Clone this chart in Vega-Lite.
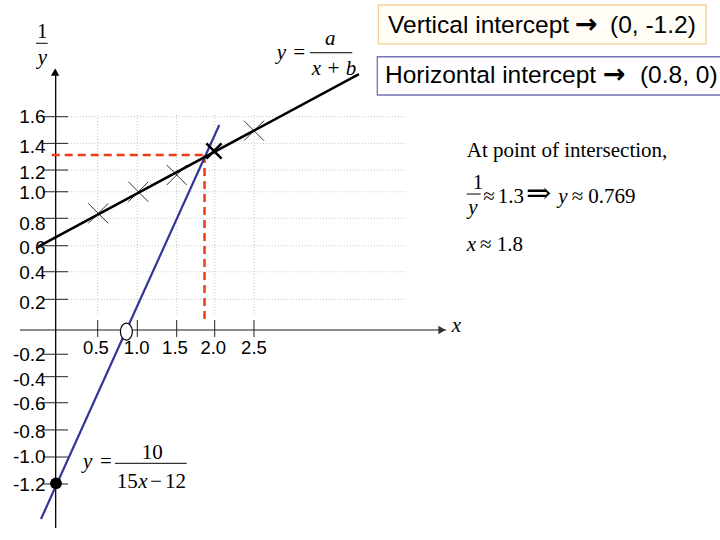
{
  "$schema": "https://vega.github.io/schema/vega-lite/v6.json",
  "description": "Reciprocal plot 1/y against x with the fitted line, the line y = 10/(15x-12), and their intersection.",
  "width": 720,
  "height": 540,
  "padding": 0,
  "autosize": {"type": "none"},
  "background": "white",
  "config": {"view": {"stroke": null}},
  "datasets": {
    "boxes": [
      {"x": 4.061, "x2": 8.209, "y": 2.438, "y2": 2.146, "box": "v"},
      {"x": 4.048, "x2": 8.45, "y": 2.05, "y2": 1.763, "box": "h"}
    ],
    "boxtext": [
      {"x": 4.184, "y": 2.226, "t": "Vertical intercept"},
      {"x": 6.994, "y": 2.226, "t": "(0, -1.2)"},
      {"x": 4.146, "y": 1.851, "t": "Horizontal intercept"},
      {"x": 7.373, "y": 1.851, "t": "(0.8, 0)"}
    ],
    "arrows": [
      {"x": 6.551, "y": 2.226, "t": "→"},
      {"x": 6.905, "y": 1.851, "t": "→"}
    ],
    "implies": [{"x": 5.93, "y": 0.95, "t": "⇒"}],
    "hgrid": [
      {"x": -0.02, "x2": 4.4, "y": 1.6},
      {"x": -0.02, "x2": 4.4, "y": 1.4},
      {"x": -0.02, "x2": 4.4, "y": 1.2},
      {"x": -0.02, "x2": 4.4, "y": 1.037},
      {"x": -0.02, "x2": 4.4, "y": 0.838},
      {"x": -0.02, "x2": 4.4, "y": 0.632},
      {"x": -0.02, "x2": 4.4, "y": 0.437},
      {"x": -0.02, "x2": 4.4, "y": 0.23}
    ],
    "vgrid": [
      {"x": 0.509, "y": 0.12, "y2": 1.613},
      {"x": 1.01, "y": 0.12, "y2": 1.613},
      {"x": 1.509, "y": 0.12, "y2": 1.613},
      {"x": 1.99, "y": 0.12, "y2": 1.613},
      {"x": 2.487, "y": 0.12, "y2": 1.613}
    ],
    "yticks": [
      {"x": -0.184, "x2": 0.133, "lx": -0.15, "y": 1.6, "ly": 1.598, "t": "1.6"},
      {"x": -0.184, "x2": 0.133, "lx": -0.15, "y": 1.4, "ly": 1.375, "t": "1.4"},
      {"x": -0.184, "x2": 0.133, "lx": -0.15, "y": 1.2, "ly": 1.176, "t": "1.2"},
      {"x": -0.184, "x2": 0.133, "lx": -0.15, "y": 1.037, "ly": 1.025, "t": "1.0"},
      {"x": -0.184, "x2": 0.133, "lx": -0.15, "y": 0.838, "ly": 0.795, "t": "0.8"},
      {"x": -0.184, "x2": 0.133, "lx": -0.15, "y": 0.632, "ly": 0.613, "t": "0.6"},
      {"x": -0.184, "x2": 0.133, "lx": -0.15, "y": 0.437, "ly": 0.425, "t": "0.4"},
      {"x": -0.184, "x2": 0.133, "lx": -0.15, "y": 0.23, "ly": 0.2, "t": "0.2"},
      {"x": -0.184, "x2": 0.133, "lx": -0.15, "y": -0.189, "ly": -0.195, "t": "-0.2"},
      {"x": -0.184, "x2": 0.133, "lx": -0.15, "y": -0.364, "ly": -0.39, "t": "-0.4"},
      {"x": -0.184, "x2": 0.133, "lx": -0.15, "y": -0.567, "ly": -0.577, "t": "-0.6"},
      {"x": -0.184, "x2": 0.133, "lx": -0.15, "y": -0.779, "ly": -0.793, "t": "-0.8"},
      {"x": -0.184, "x2": 0.133, "lx": -0.15, "y": -0.99, "ly": -0.987, "t": "-1.0"},
      {"x": -0.184, "x2": 0.133, "lx": -0.15, "y": -1.2, "ly": -1.208, "t": "-1.2"}
    ],
    "xticks": [
      {"x": 0.509, "lx": 0.487, "y": 0.075, "y2": -0.055, "ly": -0.14, "t": "0.5"},
      {"x": 1.01, "lx": 1.003, "y": 0.075, "y2": -0.055, "ly": -0.14, "t": "1.0"},
      {"x": 1.509, "lx": 1.487, "y": 0.075, "y2": -0.055, "ly": -0.14, "t": "1.5"},
      {"x": 1.99, "lx": 1.972, "y": 0.075, "y2": -0.055, "ly": -0.14, "t": "2.0"},
      {"x": 2.487, "lx": 2.487, "y": 0.075, "y2": -0.055, "ly": -0.14, "t": "2.5"}
    ],
    "reading": [
      {"x": -0.073, "x2": 1.861, "y": 1.313, "y2": 1.313},
      {"x": 1.861, "x2": 1.861, "y": 1.313, "y2": 0.06}
    ],
    "fitted": [{"x": -0.243, "x2": 3.816, "y": 0.625, "y2": 1.92}],
    "other": [
      {"x": -0.209, "y": -1.473},
      {"x": 0.872, "y": 0},
      {"x": 2.048, "y": 1.538}
    ],
    "measured": [
      {"x": 0.516, "y": 0.875},
      {"x": 1.023, "y": 1.037},
      {"x": 1.509, "y": 1.163},
      {"x": 2.487, "y": 1.495}
    ],
    "intersect": [{"x": 1.981, "y": 1.343}],
    "xint": [{"x": 0.872, "y": -0.013}],
    "yint": [{"x": -0.019, "y": -1.195}],
    "xaxis": [{"x": -0.475, "x2": 4.918, "y": 0}],
    "yaxis": [{"x": -0.023, "y": -1.543, "y2": 1.95}],
    "bars": [
      {"x": 5.18, "x2": 5.357, "y": 1.02},
      {"x": 3.196, "x2": 3.732, "y": 2.08},
      {"x": 0.728, "x2": 1.635, "y": -1.039},
      {"x": -0.272, "x2": -0.124, "y": 2.151}
    ],
    "serif": [
      {"x": 5.18, "y": 1.3, "t": "At point of intersection,"},
      {"x": 5.256, "y": 1.056, "t": "1"},
      {"x": 5.39, "y": 0.95, "t": "≈"},
      {"x": 5.572, "y": 0.95, "t": "1.3"},
      {"x": 6.509, "y": 0.95, "t": "≈"},
      {"x": 6.719, "y": 0.95, "t": "0.769"},
      {"x": 5.348, "y": 0.593, "t": "≈"},
      {"x": 5.559, "y": 0.593, "t": "1.8"},
      {"x": 2.985, "y": 2.031, "t": "="},
      {"x": 0.538, "y": -1.078, "t": "="},
      {"x": 1.066, "y": -1.005, "t": "10"},
      {"x": 0.749, "y": -1.234, "t": "15"},
      {"x": 1.171, "y": -1.234, "t": "−"},
      {"x": 1.361, "y": -1.234, "t": "12"},
      {"x": -0.259, "y": 2.188, "t": "1"}
    ],
    "italic": [
      {"x": 5.2, "y": 0.868, "t": "y"},
      {"x": 6.339, "y": 0.95, "t": "y"},
      {"x": 5.18, "y": 0.593, "t": "x"},
      {"x": 2.775, "y": 2.031, "t": "y"},
      {"x": 3.386, "y": 2.138, "t": "a"},
      {"x": 3.218, "y": 1.913, "t": "x + b"},
      {"x": 0.323, "y": -1.078, "t": "y"},
      {"x": 1.023, "y": -1.234, "t": "x"},
      {"x": -0.25, "y": 1.996, "t": "y"},
      {"x": 4.99, "y": -0.013, "t": "x"}
    ]
  },
  "encoding": {
    "x": {"field": "x", "type": "quantitative", "scale": {"domain": [-0.7278, 8.3861], "nice": false, "zero": false}, "axis": null},
    "y": {"field": "y", "type": "quantitative", "scale": {"domain": [-1.6368, 0, 2.4756], "range": [540, 330, 0], "nice": false, "zero": false}, "axis": null}
  },
  "layer": [
    {
      "data": {"name": "boxes"},
      "mark": {"type": "rect", "strokeWidth": 1.3},
      "encoding": {
        "x2": {"field": "x2"},
        "y2": {"field": "y2"},
        "stroke": {"field": "box", "type": "nominal", "scale": {"domain": ["v", "h"], "range": ["#F3CF98", "#7373B5"]}, "legend": null},
        "fill": {"field": "box", "type": "nominal", "scale": {"domain": ["v", "h"], "range": ["#FFFDF6", "#FFFFFF"]}, "legend": null}
      }
    },
    {
      "data": {"name": "boxtext"},
      "mark": {"type": "text", "align": "left", "baseline": "alphabetic", "font": "Liberation Sans", "fontSize": 24.5, "color": "#000"},
      "encoding": {"text": {"field": "t"}}
    },
    {
      "data": {"name": "arrows"},
      "mark": {"type": "text", "align": "left", "baseline": "alphabetic", "font": "DejaVu Sans", "fontWeight": "bold", "fontSize": 27, "color": "#000"},
      "encoding": {"text": {"field": "t"}}
    },
    {
      "data": {"name": "hgrid"},
      "mark": {"type": "rule", "color": "#c4c4c4", "strokeWidth": 1, "strokeDash": [1, 2]},
      "encoding": {"x2": {"field": "x2"}}
    },
    {
      "data": {"name": "vgrid"},
      "mark": {"type": "rule", "color": "#c4c4c4", "strokeWidth": 1, "strokeDash": [1, 2]},
      "encoding": {"y2": {"field": "y2"}}
    },
    {
      "data": {"name": "xaxis"},
      "mark": {"type": "rule", "color": "#666", "strokeWidth": 1.6},
      "encoding": {"x2": {"field": "x2"}}
    },
    {
      "data": {"values": [{"x": 4.867, "y": 0}]},
      "mark": {"type": "point", "shape": "triangle-right", "size": 70, "filled": true, "color": "#333", "opacity": 1}
    },
    {
      "data": {"name": "yaxis"},
      "mark": {"type": "rule", "color": "#000", "strokeWidth": 1.3},
      "encoding": {"y2": {"field": "y2"}}
    },
    {
      "data": {"values": [{"x": -0.03, "y": 1.935}]},
      "mark": {"type": "point", "shape": "triangle-up", "size": 70, "filled": true, "color": "#000", "opacity": 1}
    },
    {
      "data": {"name": "yticks"},
      "mark": {"type": "rule", "color": "#222", "strokeWidth": 1},
      "encoding": {"x2": {"field": "x2"}}
    },
    {
      "data": {"name": "yticks"},
      "mark": {"type": "text", "align": "right", "baseline": "middle", "font": "Liberation Sans", "fontSize": 19, "color": "#000"},
      "encoding": {"x": {"field": "lx", "type": "quantitative"}, "y": {"field": "ly", "type": "quantitative"}, "text": {"field": "t"}}
    },
    {
      "data": {"name": "xticks"},
      "mark": {"type": "rule", "color": "#222", "strokeWidth": 1},
      "encoding": {"y2": {"field": "y2"}}
    },
    {
      "data": {"name": "xticks"},
      "mark": {"type": "text", "align": "center", "baseline": "middle", "font": "Liberation Sans", "fontSize": 18.5, "color": "#000"},
      "encoding": {"x": {"field": "lx", "type": "quantitative"}, "y": {"field": "ly", "type": "quantitative"}, "text": {"field": "t"}}
    },
    {
      "data": {"name": "reading"},
      "mark": {"type": "rule", "color": "#F03C14", "strokeWidth": 2.5, "strokeDash": [8, 5]},
      "encoding": {"x2": {"field": "x2"}, "y2": {"field": "y2"}}
    },
    {
      "data": {"name": "other"},
      "mark": {"type": "line", "color": "#34349B", "strokeWidth": 2.2}
    },
    {
      "data": {"name": "fitted"},
      "mark": {"type": "rule", "color": "#000", "strokeWidth": 2.5},
      "encoding": {"x2": {"field": "x2"}, "y2": {"field": "y2"}}
    },
    {
      "data": {"name": "measured"},
      "mark": {"type": "point", "shape": "M-1,-1L1,1M-1,1L1,-1", "size": 400, "filled": false, "color": "#000", "strokeWidth": 0.8, "opacity": 1}
    },
    {
      "data": {"name": "intersect"},
      "mark": {"type": "point", "shape": "M-1,-1L1,1M-1,1L1,-1", "size": 230, "filled": false, "color": "#000", "strokeWidth": 2.6, "opacity": 1}
    },
    {
      "data": {"name": "xint"},
      "mark": {"type": "point", "shape": "M0,-1A0.7,1,0,1,1,0,1A0.7,1,0,1,1,0,-1Z", "size": 289, "filled": true, "fill": "#fff", "stroke": "#000", "strokeWidth": 1.2, "opacity": 1}
    },
    {
      "data": {"name": "yint"},
      "mark": {"type": "point", "shape": "circle", "size": 140, "filled": true, "color": "#000", "opacity": 1}
    },
    {
      "data": {"name": "bars"},
      "mark": {"type": "rule", "color": "#000", "strokeWidth": 1},
      "encoding": {"x2": {"field": "x2"}}
    },
    {
      "data": {"name": "serif"},
      "mark": {"type": "text", "align": "left", "baseline": "alphabetic", "font": "Liberation Serif", "fontSize": 21, "color": "#000"},
      "encoding": {"text": {"field": "t"}}
    },
    {
      "data": {"name": "implies"},
      "mark": {"type": "text", "align": "left", "baseline": "alphabetic", "font": "DejaVu Serif", "fontSize": 30, "color": "#000"},
      "encoding": {"text": {"field": "t"}}
    },
    {
      "data": {"name": "italic"},
      "mark": {"type": "text", "align": "left", "baseline": "alphabetic", "font": "Liberation Serif", "fontStyle": "italic", "fontSize": 21, "color": "#000"},
      "encoding": {"text": {"field": "t"}}
    }
  ]
}
